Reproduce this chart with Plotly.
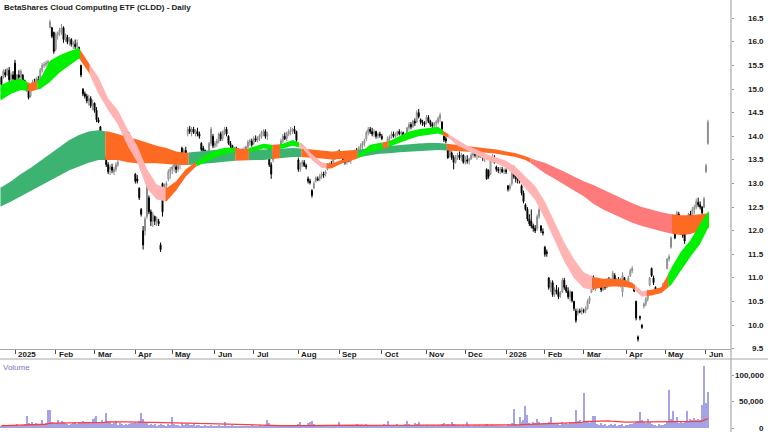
import numpy as np
import pandas as pd
import plotly.graph_objects as go

# ---------------- calendar (ASX trading days) ----------------
HOLIDAYS = ['2024-12-25', '2024-12-26', '2025-01-01', '2025-01-27', '2025-04-18', '2025-04-21',
            '2025-04-25', '2025-06-09', '2025-12-25', '2025-12-26', '2026-01-01', '2026-01-26',
            '2026-04-03', '2026-04-06']
dates = [d for d in pd.bdate_range('2024-12-19', '2026-06-02') if d.strftime('%Y-%m-%d') not in HOLIDAYS]

# ---------------- daily OHLC ----------------
opens = [
    15.25, 15.25, 15.35, 15.30, 15.40, 15.20, 15.30,
    15.55, 15.15, 15.30, 15.25, 15.30, 15.18, 15.10, 15.00, 14.85, 15.05, 15.15, 15.12, 15.20, 15.20, 15.40, 15.50, 15.52, 15.55, 16.30, 16.30, 16.20,
    15.85, 16.15, 16.20, 16.25, 16.30, 16.05, 16.10, 16.00, 16.05, 15.95, 15.95, 15.90, 15.88, 15.50, 15.00, 14.90, 14.85, 14.75, 14.80, 14.65,
    14.70, 14.55, 14.35, 14.20, 14.00, 13.85, 13.55, 13.40, 13.30, 13.35, 13.25, 13.30, 13.40, 13.60, 13.85, 13.70, 13.65, 13.90, 14.00, 13.80, 13.55,
    13.20, 13.10, 12.90, 12.45, 12.00, 12.00, 12.30, 12.70, 12.40, 12.20, 12.30, 12.20, 12.20, 11.70, 13.00, 12.90, 12.95, 13.10, 13.25,
    13.30, 13.35, 13.35, 13.30, 13.40, 13.75, 13.55, 13.70, 14.05, 14.15, 14.10, 14.15, 14.05, 14.10, 14.05, 13.85, 13.75, 13.70, 13.60, 13.70, 13.85, 14.00,
    13.80, 13.85, 13.90, 14.05, 13.95, 14.10, 14.15, 14.00, 13.85, 13.80, 13.65, 13.75, 13.70, 13.68, 13.62, 13.70, 13.72, 13.78, 13.88, 13.90,
    13.85, 13.95, 13.92, 13.98, 14.00, 14.08, 14.10, 14.00, 13.75, 13.40, 13.50, 13.65, 13.60, 13.65, 13.80, 13.90, 14.00, 13.95, 14.05, 14.10, 14.12, 14.15, 14.10,
    13.50, 13.30, 13.42, 13.45, 13.38, 13.10, 13.05, 12.85, 12.90, 13.05, 13.10, 13.10, 13.15, 13.20, 13.20, 13.30, 13.38, 13.42, 13.45, 13.55, 13.60,
    13.65, 13.60, 13.58, 13.50, 13.45, 13.52, 13.48, 13.55, 13.60, 13.68, 13.65, 13.75, 13.80, 13.85, 13.95, 14.08, 14.15, 14.10, 14.05, 14.10, 14.00, 14.05,
    14.00, 13.82, 13.70, 13.85, 13.95, 13.98, 14.05, 14.00, 14.05, 14.10, 14.05, 14.08, 13.95, 14.05, 14.18, 14.25, 14.20, 14.32, 14.30, 14.50, 14.35, 14.30, 14.28,
    14.28, 14.40, 14.32, 14.25, 14.22, 14.28, 14.30, 14.38, 14.30, 14.00, 13.95, 13.80, 13.60, 13.65, 13.55, 13.45, 13.55, 13.60, 13.55, 13.60,
    13.45, 13.50, 13.48, 13.52, 13.60, 13.65, 13.60, 13.65, 13.62, 13.60, 13.55, 13.30, 13.28, 13.20, 13.50, 13.55, 13.35, 13.30, 13.28, 13.30, 13.25,
    13.28, 12.95, 12.90, 13.00, 13.30, 13.15, 13.10, 13.08, 12.95, 12.80, 12.55, 12.45, 12.25, 12.20, 12.10, 12.05, 12.05, 12.30, 12.10, 11.98,
    11.65, 11.55, 11.00, 10.80, 10.90, 10.65, 10.75, 10.70, 10.65, 10.70, 10.95, 10.80, 10.72, 10.60, 10.70, 10.50, 10.30, 10.25, 10.30, 10.28,
    10.30, 10.30, 10.35, 10.50, 10.70, 11.00, 10.80, 10.90, 10.85, 10.90, 10.75, 10.85, 10.80, 10.95, 10.90, 10.95, 11.05, 10.92, 10.95, 10.88, 10.70, 11.00,
    10.90, 10.92, 11.05, 11.15, 10.80, 10.50, 9.75, 10.18, 10.00, 10.40, 10.45, 10.55, 10.85, 11.20, 11.00, 10.80, 10.72, 10.75, 10.72, 10.80,
    10.88, 11.20, 11.40, 11.65, 12.05, 12.00, 12.10, 12.35, 12.20, 12.00, 11.95, 11.95, 12.12, 12.35, 12.20, 12.45, 12.50, 12.60, 12.55, 12.50, 12.50, 13.25, 13.85,
]
highs = [
    15.28, 15.42, 15.42, 15.45, 15.47, 15.35, 15.38,
    15.62, 15.32, 15.40, 15.42, 15.32, 15.20, 15.12, 15.05, 15.10, 15.20, 15.22, 15.25, 15.28, 15.45, 15.55, 15.58, 15.60, 15.62, 16.47, 16.32, 16.22,
    16.20, 16.22, 16.30, 16.38, 16.33, 16.18, 16.15, 16.10, 16.08, 16.02, 16.05, 16.05, 15.90, 15.52, 15.02, 14.95, 14.90, 14.88, 14.85, 14.78,
    14.72, 14.62, 14.40, 14.22, 14.00, 13.95, 13.60, 13.45, 13.40, 13.42, 13.35, 13.45, 13.50, 13.85, 13.88, 13.78, 13.95, 14.05, 14.08, 13.85, 13.60,
    13.22, 13.18, 12.92, 12.48, 12.10, 12.30, 13.10, 12.75, 12.45, 12.40, 12.32, 12.30, 12.25, 11.75, 13.02, 13.00, 13.05, 13.30, 13.35,
    13.38, 13.45, 13.45, 13.42, 13.50, 13.78, 13.75, 13.78, 14.20, 14.22, 14.20, 14.20, 14.15, 14.18, 14.10, 13.88, 13.80, 13.72, 13.70, 13.88, 14.20, 14.05,
    13.90, 13.95, 14.08, 14.10, 14.12, 14.20, 14.20, 14.02, 13.90, 13.82, 13.78, 13.78, 13.75, 13.72, 13.75, 13.78, 13.80, 13.92, 13.95, 13.95,
    14.00, 14.02, 14.00, 14.05, 14.12, 14.15, 14.15, 14.10, 13.78, 13.45, 13.70, 13.72, 13.70, 13.80, 13.95, 14.05, 14.08, 14.10, 14.15, 14.20, 14.18, 14.22, 14.12,
    13.55, 13.45, 13.50, 13.50, 13.42, 13.15, 13.10, 12.88, 13.05, 13.15, 13.15, 13.20, 13.25, 13.25, 13.28, 13.40, 13.45, 13.48, 13.60, 13.65, 13.70,
    13.72, 13.68, 13.60, 13.55, 13.55, 13.60, 13.58, 13.65, 13.72, 13.75, 13.78, 13.85, 13.90, 13.95, 14.12, 14.20, 14.20, 14.18, 14.15, 14.12, 14.08, 14.10,
    14.05, 13.84, 13.85, 14.00, 14.02, 14.10, 14.10, 14.08, 14.12, 14.15, 14.12, 14.10, 14.05, 14.20, 14.30, 14.30, 14.35, 14.38, 14.55, 14.58, 14.38, 14.35, 14.32,
    14.45, 14.45, 14.35, 14.30, 14.30, 14.35, 14.42, 14.50, 14.32, 14.02, 14.00, 13.82, 13.75, 13.68, 13.60, 13.60, 13.65, 13.68, 13.65, 13.62,
    13.58, 13.60, 13.55, 13.65, 13.70, 13.70, 13.70, 13.72, 13.70, 13.65, 13.62, 13.32, 13.30, 13.55, 13.62, 13.60, 13.38, 13.35, 13.35, 13.35, 13.32,
    13.32, 12.97, 13.00, 13.35, 13.38, 13.20, 13.15, 13.12, 12.98, 12.85, 12.58, 12.50, 12.35, 12.45, 12.15, 12.12, 12.35, 12.50, 12.12, 12.05,
    11.68, 11.60, 11.02, 10.95, 10.95, 10.80, 10.85, 10.80, 10.72, 11.00, 11.00, 10.85, 10.80, 10.75, 10.72, 10.52, 10.35, 10.35, 10.35, 10.38,
    10.35, 10.40, 10.55, 10.62, 11.05, 11.05, 10.95, 11.00, 10.95, 10.92, 10.90, 10.90, 11.00, 11.02, 11.00, 11.15, 11.10, 11.00, 11.02, 11.00, 11.12, 11.02,
    10.95, 11.05, 11.20, 11.25, 10.82, 10.52, 9.78, 10.20, 10.02, 10.48, 10.60, 10.75, 11.02, 11.22, 11.05, 10.82, 10.78, 10.78, 10.80, 10.90,
    10.95, 11.42, 11.50, 11.88, 12.18, 12.02, 12.42, 12.40, 12.22, 12.05, 11.98, 12.18, 12.38, 12.42, 12.50, 12.55, 12.68, 12.70, 12.62, 12.52, 12.72, 13.42, 14.35,
]
lows = [
    15.05, 15.22, 15.25, 15.28, 15.10, 15.15, 15.18,
    15.10, 15.12, 15.20, 15.22, 15.15, 15.05, 14.95, 14.78, 14.82, 15.02, 15.08, 15.10, 15.12, 15.18, 15.35, 15.45, 15.47, 15.45, 16.30, 16.08, 15.75,
    15.80, 16.05, 16.12, 16.15, 15.98, 16.00, 15.95, 15.92, 15.90, 15.85, 15.85, 15.78, 15.65, 15.25, 14.85, 14.80, 14.70, 14.65, 14.60, 14.55,
    14.50, 14.30, 14.28, 14.00, 13.78, 13.75, 13.35, 13.20, 13.18, 13.22, 13.18, 13.25, 13.35, 13.58, 13.65, 13.55, 13.60, 13.85, 13.75, 13.60, 13.50,
    13.00, 13.00, 12.65, 12.30, 11.60, 11.90, 12.25, 12.35, 12.10, 12.08, 12.12, 12.10, 12.10, 11.55, 12.30, 12.85, 12.88, 13.05, 13.10,
    13.20, 13.25, 13.22, 13.25, 13.30, 13.40, 13.50, 13.60, 14.00, 14.05, 14.00, 14.05, 14.00, 14.00, 13.95, 13.68, 13.65, 13.55, 13.55, 13.65, 13.80, 13.75,
    13.75, 13.78, 13.85, 13.90, 13.90, 14.02, 14.00, 13.82, 13.75, 13.60, 13.60, 13.62, 13.60, 13.55, 13.58, 13.62, 13.65, 13.75, 13.80, 13.78,
    13.82, 13.88, 13.87, 13.90, 13.95, 14.00, 13.95, 13.92, 13.35, 13.10, 13.45, 13.55, 13.55, 13.60, 13.78, 13.85, 13.92, 13.90, 14.00, 14.02, 14.05, 14.05, 13.88,
    13.25, 13.25, 13.35, 13.35, 13.30, 13.00, 12.98, 12.70, 12.88, 13.02, 13.05, 13.05, 13.10, 13.12, 13.15, 13.28, 13.33, 13.35, 13.42, 13.50, 13.52,
    13.55, 13.52, 13.45, 13.40, 13.40, 13.45, 13.42, 13.50, 13.55, 13.60, 13.60, 13.70, 13.72, 13.78, 13.90, 14.02, 14.05, 14.00, 13.98, 13.95, 13.95, 13.97,
    13.92, 13.68, 13.68, 13.82, 13.88, 13.95, 13.97, 13.95, 14.00, 14.02, 13.98, 13.92, 13.90, 14.02, 14.12, 14.15, 14.18, 14.22, 14.28, 14.38, 14.25, 14.22, 14.20,
    14.25, 14.28, 14.20, 14.18, 14.15, 14.20, 14.25, 14.30, 14.12, 13.88, 13.85, 13.52, 13.55, 13.50, 13.30, 13.42, 13.50, 13.50, 13.48, 13.42,
    13.40, 13.42, 13.40, 13.50, 13.55, 13.55, 13.50, 13.55, 13.55, 13.48, 13.45, 13.08, 13.10, 13.18, 13.45, 13.42, 13.25, 13.22, 13.20, 13.22, 13.20,
    13.20, 12.83, 12.85, 12.95, 13.10, 13.02, 13.00, 13.00, 12.75, 12.58, 12.42, 12.20, 12.10, 12.05, 11.98, 11.95, 12.00, 12.25, 11.95, 11.90,
    11.45, 11.45, 10.75, 10.70, 10.60, 10.60, 10.65, 10.55, 10.58, 10.68, 10.75, 10.68, 10.55, 10.50, 10.48, 10.30, 10.05, 10.20, 10.25, 10.22,
    10.25, 10.25, 10.33, 10.45, 10.68, 10.75, 10.72, 10.80, 10.78, 10.70, 10.72, 10.75, 10.78, 10.85, 10.85, 10.90, 10.90, 10.85, 10.82, 10.80, 10.60, 10.85,
    10.85, 10.88, 11.02, 11.10, 10.70, 10.10, 9.65, 10.10, 9.92, 10.35, 10.40, 10.50, 10.82, 11.02, 10.85, 10.70, 10.68, 10.70, 10.68, 10.78,
    10.82, 11.18, 11.35, 11.62, 12.00, 11.82, 12.05, 12.15, 12.02, 11.85, 11.72, 11.92, 12.10, 12.15, 12.18, 12.35, 12.45, 12.50, 12.45, 12.35, 12.48, 13.22, 13.82,
]
closes = [
    15.10, 15.38, 15.30, 15.42, 15.20, 15.30, 15.22,
    15.15, 15.30, 15.25, 15.38, 15.18, 15.10, 15.00, 14.82, 15.05, 15.15, 15.12, 15.22, 15.18, 15.40, 15.50, 15.52, 15.55, 15.58, 16.42, 16.12, 15.80,
    16.15, 16.20, 16.25, 16.30, 16.05, 16.15, 16.00, 16.05, 15.95, 15.98, 15.90, 15.98, 15.68, 15.30, 14.90, 14.85, 14.75, 14.80, 14.65, 14.70,
    14.55, 14.35, 14.30, 14.05, 13.82, 13.90, 13.40, 13.25, 13.35, 13.28, 13.30, 13.40, 13.45, 13.80, 13.70, 13.60, 13.90, 14.00, 13.80, 13.65, 13.55,
    13.05, 13.05, 12.70, 12.35, 11.70, 12.25, 12.95, 12.40, 12.20, 12.35, 12.20, 12.25, 12.15, 11.60, 12.40, 12.95, 13.00, 13.25, 13.30,
    13.35, 13.40, 13.30, 13.38, 13.45, 13.45, 13.70, 13.65, 14.15, 14.10, 14.15, 14.08, 14.12, 14.05, 14.00, 13.72, 13.70, 13.60, 13.65, 13.85, 14.15, 13.80,
    13.85, 13.90, 14.05, 13.95, 14.10, 14.15, 14.05, 13.85, 13.80, 13.65, 13.75, 13.70, 13.68, 13.62, 13.70, 13.72, 13.78, 13.88, 13.90, 13.82,
    13.95, 13.92, 13.98, 14.02, 14.08, 14.10, 14.00, 14.05, 13.40, 13.20, 13.65, 13.60, 13.65, 13.75, 13.90, 14.00, 13.95, 14.05, 14.10, 14.12, 14.15, 14.10, 13.92,
    13.30, 13.42, 13.45, 13.38, 13.35, 13.05, 13.02, 12.75, 13.00, 13.12, 13.08, 13.15, 13.20, 13.18, 13.25, 13.38, 13.42, 13.40, 13.55, 13.60, 13.65,
    13.60, 13.58, 13.50, 13.45, 13.52, 13.48, 13.55, 13.60, 13.68, 13.65, 13.75, 13.80, 13.85, 13.90, 14.08, 14.15, 14.10, 14.05, 14.10, 14.00, 14.05, 14.02,
    13.95, 13.70, 13.82, 13.95, 13.98, 14.05, 14.00, 14.05, 14.10, 14.05, 14.08, 13.95, 14.02, 14.18, 14.25, 14.20, 14.32, 14.28, 14.50, 14.42, 14.30, 14.28, 14.25,
    14.40, 14.32, 14.25, 14.22, 14.28, 14.30, 14.38, 14.45, 14.15, 13.92, 13.90, 13.55, 13.70, 13.55, 13.45, 13.55, 13.60, 13.55, 13.60, 13.45,
    13.50, 13.48, 13.52, 13.60, 13.65, 13.60, 13.65, 13.62, 13.60, 13.55, 13.58, 13.10, 13.15, 13.50, 13.55, 13.45, 13.30, 13.28, 13.30, 13.25, 13.28,
    13.25, 12.88, 12.95, 13.30, 13.15, 13.10, 13.08, 13.05, 12.80, 12.62, 12.45, 12.25, 12.15, 12.10, 12.05, 12.00, 12.30, 12.45, 12.00, 11.95,
    11.50, 11.52, 10.80, 10.90, 10.65, 10.75, 10.70, 10.60, 10.68, 10.95, 10.80, 10.72, 10.60, 10.70, 10.52, 10.35, 10.10, 10.30, 10.28, 10.32,
    10.30, 10.35, 10.50, 10.58, 11.00, 10.80, 10.90, 10.85, 10.90, 10.75, 10.85, 10.80, 10.95, 10.90, 10.95, 11.10, 10.92, 10.95, 10.88, 10.95, 11.05, 10.90,
    10.92, 11.00, 11.15, 11.20, 10.72, 10.15, 9.70, 10.15, 9.95, 10.45, 10.55, 10.70, 11.00, 11.05, 10.90, 10.72, 10.75, 10.72, 10.75, 10.88,
    10.90, 11.40, 11.45, 11.85, 12.15, 11.85, 12.38, 12.20, 12.05, 11.90, 11.78, 12.15, 12.35, 12.20, 12.45, 12.50, 12.62, 12.55, 12.50, 12.38, 12.68, 13.38, 14.30,
]
volumes = [
    4000, 6000, 3000, 5000, 2000, 3000, 4000,
    5000, 7000, 4000, 6000, 5000, 8000, 23000, 9000, 6000, 11000, 7000, 10000, 5000, 8000, 15000, 7000, 9000, 35000, 34000, 12000, 9000,
    10000, 15000, 9000, 14000, 11000, 10000, 7000, 6000, 8000, 9000, 11000, 8000, 12000, 10000, 13000, 11000, 10000, 12000, 9000, 17000,
    19000, 23000, 12000, 10000, 15000, 9000, 28000, 11000, 12000, 8000, 10000, 13000, 6000, 9000, 7000, 5000, 8000, 6000, 7000, 10000, 9000,
    12000, 9000, 14000, 28000, 18000, 12000, 9000, 6000, 8000, 5000, 7000, 4000, 6000, 7000, 5000, 6000, 4000, 7000, 5000,
    20000, 8000, 5000, 6000, 4000, 9000, 5000, 7000, 8000, 6000, 5000, 7000, 4000, 6000, 5000, 3000, 4000, 5000, 3000, 4000, 6000, 3000,
    4000, 3000, 5000, 2000, 3000, 12000, 4000, 2000, 3000, 5000, 2000, 3000, 4000, 2000, 3000, 2000, 4000, 3000, 2000, 5000,
    3000, 4000, 2000, 5000, 3000, 4000, 6000, 16000, 9000, 5000, 4000, 3000, 5000, 2000, 4000, 6000, 3000, 5000, 2000, 4000, 3000, 2000, 5000,
    8000, 11000, 5000, 6000, 4000, 9000, 12000, 13000, 7000, 5000, 4000, 6000, 3000, 4000, 5000, 3000, 4000, 6000, 3000, 4000, 2000,
    11000, 3000, 4000, 5000, 3000, 6000, 4000, 5000, 3000, 7000, 4000, 5000, 6000, 4000, 7000, 5000, 4000, 6000, 3000, 5000, 4000, 3000,
    5000, 8000, 6000, 13000, 5000, 4000, 6000, 5000, 7000, 4000, 6000, 5000, 7000, 13000, 8000, 6000, 5000, 9000, 7000, 11000, 6000, 5000, 4000,
    6000, 5000, 4000, 6000, 5000, 3000, 6000, 5000, 7000, 9000, 6000, 8000, 5000, 12000, 7000, 5000, 4000, 6000, 3000, 5000,
    4000, 11000, 5000, 3000, 4000, 6000, 3000, 5000, 4000, 3000, 5000, 7000, 4000, 3000, 5000, 2000, 4000, 3000, 2000, 4000, 3000,
    4000, 8000, 6000, 9000, 36000, 8000, 5000, 20000, 12000, 15000, 41000, 25000, 10000, 8000, 12000, 9000, 17000, 11000, 7000, 9000,
    10000, 8000, 12000, 21000, 9000, 7000, 10000, 8000, 6000, 11000, 7000, 9000, 8000, 12000, 10000, 9000, 35000, 14000, 15000, 10000,
    66000, 14000, 13000, 9000, 12000, 23000, 22000, 8000, 6000, 9000, 5000, 7000, 4000, 6000, 8000, 5000, 7000, 4000, 6000, 5000, 7000, 4000,
    5000, 6000, 8000, 7000, 9000, 12000, 14000, 30000, 15000, 11000, 9000, 18000, 12000, 8000, 6000, 5000, 4000, 7000, 5000, 6000,
    8000, 12000, 72000, 18000, 32000, 12000, 21000, 10000, 14000, 9000, 14000, 33000, 12000, 18000, 15000, 19000, 16000, 18000, 15000, 44000, 117000, 47000, 68000,
]

# ---------------- moving-average ribbons (edges) ----------------
ribbon_idx = list(range(0, 361, 5)) + [364]
slow_top = [12.92, 13.05, 13.20, 13.33, 13.48, 13.62, 13.78, 13.92, 14.03, 14.10, 14.13, 14.10, 14.05, 13.98, 13.93,
            13.86, 13.80, 13.75, 13.68, 13.65, 13.67, 13.70, 13.72, 13.73, 13.74, 13.73, 13.72, 13.72, 13.73, 13.74,
            13.75, 13.74, 13.72, 13.70, 13.68, 13.69, 13.70, 13.72, 13.75, 13.78, 13.80, 13.82, 13.84, 13.85, 13.86,
            13.86, 13.84, 13.81, 13.79, 13.77, 13.75, 13.72, 13.68, 13.64, 13.58, 13.50, 13.44, 13.35, 13.25, 13.15,
            13.05, 12.97, 12.87, 12.77, 12.68, 12.58, 12.50, 12.44, 12.39, 12.35, 12.33, 12.33, 12.35, 12.37]
slow_bot = [12.52, 12.62, 12.72, 12.83, 12.95, 13.06, 13.17, 13.28, 13.36, 13.44, 13.50, 13.50, 13.50, 13.45, 13.43,
            13.43, 13.43, 13.42, 13.40, 13.39, 13.40, 13.42, 13.44, 13.46, 13.48, 13.49, 13.50, 13.50, 13.52, 13.54,
            13.56, 13.56, 13.55, 13.53, 13.51, 13.52, 13.53, 13.56, 13.60, 13.63, 13.64, 13.66, 13.68, 13.69, 13.70,
            13.71, 13.70, 13.68, 13.67, 13.66, 13.65, 13.63, 13.60, 13.56, 13.50, 13.38, 13.22, 13.10, 12.98, 12.85,
            12.73, 12.57, 12.45, 12.35, 12.26, 12.17, 12.10, 12.04, 11.99, 11.94, 11.91, 11.93, 12.00, 12.07]
fast_top = [15.09, 15.18, 15.22, 15.12, 15.22, 15.60, 15.72, 15.80, 15.87, 15.55, 15.25, 14.80, 14.55, 14.15, 13.80,
            13.30, 12.98, 12.90, 13.05, 13.30, 13.45, 13.60, 13.70, 13.76, 13.76, 13.72, 13.78, 13.84, 13.82, 13.84,
            13.92, 13.85, 13.62, 13.45, 13.42, 13.50, 13.55, 13.65, 13.82, 13.86, 13.90, 14.00, 14.10, 14.15, 14.18,
            14.20, 14.05, 13.92, 13.80, 13.72, 13.62, 13.55, 13.48, 13.35, 13.15, 12.95, 12.62, 12.20, 11.75, 11.40,
            11.12, 11.02, 10.98, 10.98, 10.97, 10.90, 10.72, 10.75, 10.80, 11.20, 11.55, 11.80, 12.15, 12.40]
fast_bot = [14.77, 14.90, 14.98, 14.95, 15.00, 15.15, 15.35, 15.50, 15.65, 15.35, 14.90, 14.55, 14.25, 13.80, 13.45,
            12.90, 12.66, 12.62, 12.85, 13.15, 13.35, 13.45, 13.55, 13.62, 13.66, 13.64, 13.68, 13.74, 13.72, 13.74,
            13.80, 13.75, 13.50, 13.33, 13.32, 13.42, 13.48, 13.55, 13.67, 13.71, 13.78, 13.86, 13.94, 14.00, 14.03,
            14.06, 13.98, 13.80, 13.70, 13.60, 13.50, 13.43, 13.33, 13.15, 12.90, 12.65, 12.25, 11.80, 11.35, 11.00,
            10.78, 10.75, 10.80, 10.82, 10.82, 10.78, 10.60, 10.63, 10.68, 10.85, 11.15, 11.45, 11.72, 12.05]

# trend state of each ribbon over bar ranges (inclusive)
fast_segments = [(0, 13, 'up'), (14, 18, 'mix'), (19, 40, 'up'), (41, 45, 'mix'), (46, 84, 'down'),
                 (85, 100, 'mix'), (101, 120, 'up'), (121, 127, 'mix'), (128, 139, 'up'), (140, 143, 'mix'),
                 (144, 153, 'up'), (154, 167, 'down'), (168, 183, 'mix'), (184, 196, 'up'), (197, 199, 'mix'),
                 (200, 227, 'up'), (228, 230, 'mix'), (231, 304, 'down'), (305, 326, 'mix'), (327, 332, 'down'),
                 (333, 343, 'mix'), (344, 364, 'up')]
slow_segments = [(0, 53, 'up'), (54, 96, 'mix'), (97, 120, 'up'), (121, 127, 'mix'), (128, 139, 'up'),
                 (140, 143, 'mix'), (144, 154, 'up'), (155, 183, 'mix'), (184, 229, 'up'), (230, 272, 'mix'),
                 (273, 345, 'down'), (346, 364, 'mix')]

FAST_COL = {'up': '#00f000', 'mix': '#ff6a22', 'down': '#ffb3b3'}
SLOW_COL = {'up': '#3cb371', 'mix': '#ff6a22', 'down': '#ff7a7a'}

price_ticks = [9.5, 10.0, 10.5, 11.0, 11.5, 12.0, 12.5, 13.0, 13.5, 14.0, 14.5, 15.0, 15.5, 16.0, 16.5]
volume_ticks = [0, 50000, 100000]

FONT = 'Liberation Sans, Arial, sans-serif'

n = min(len(dates), len(closes))
idx = np.arange(n)

fig = go.Figure()


def add_ribbon(segments, top, bot, colors):
    for a, b, state in segments:
        x0, x1 = a - 0.5, b + 0.5
        xs = [x0] + [s for s in ribbon_idx if x0 < s < x1] + [x1]
        t = np.interp(xs, ribbon_idx, top)
        bo = np.interp(xs, ribbon_idx, bot)
        fig.add_trace(go.Scatter(x=xs + xs[::-1], y=list(t) + list(bo[::-1]), mode='lines',
                                 fill='toself', fillcolor=colors[state], line=dict(width=0),
                                 hoverinfo='skip', showlegend=False, xaxis='x', yaxis='y'))


add_ribbon(slow_segments, slow_top, slow_bot, SLOW_COL)
add_ribbon(fast_segments, fast_top, fast_bot, FAST_COL)

fig.add_trace(go.Candlestick(
    x=idx, open=opens[:n], high=highs[:n], low=lows[:n], close=closes[:n],
    increasing=dict(line=dict(color='#8a8a8a', width=1), fillcolor='#ffffff'),
    decreasing=dict(line=dict(color='#000000', width=1), fillcolor='#000000'),
    whiskerwidth=0, showlegend=False, xaxis='x', yaxis='y'))

vol = pd.Series(volumes[:n], dtype=float)
fig.add_trace(go.Bar(x=idx, y=vol, width=0.55, marker=dict(color='#a3a3e6', line=dict(width=0)),
                     showlegend=False, xaxis='x2', yaxis='y2'))
fig.add_trace(go.Scatter(x=idx, y=vol.rolling(50, min_periods=1).mean(), mode='lines',
                         line=dict(color='#ff3c3c', width=1.3), showlegend=False, xaxis='x2', yaxis='y2'))

# month ticks
month_idx, month_lab = [], []
for i in range(1, n):
    if dates[i].month != dates[i - 1].month:
        month_idx.append(i)
        month_lab.append(str(dates[i].year) if dates[i].month == 1 else dates[i].strftime('%b'))

W, H = 768, 432
PLOT_R = 731
price_dom = [1 - 349 / H, 1]
vol_dom = [0, 73 / H]
xr = [-0.73, 375.9]

annotations = []
annotations.append(dict(text='<b>BetaShares Cloud Computing ETF (CLDD) - Daily</b>', xref='paper', yref='paper',
                        x=0, y=1 - 7.5 / H, xanchor='left', yanchor='middle', xshift=2, showarrow=False,
                        font=dict(family=FONT, size=8, color='#1a1a1a')))
for mi, ml in zip(month_idx, month_lab):
    annotations.append(dict(text='<b>%s</b>' % ml, xref='x', yref='paper', x=mi, y=1 - 354.5 / H,
                            xanchor='left', yanchor='middle', xshift=1, showarrow=False,
                            font=dict(family=FONT, size=8, color='#1a1a1a')))
for p in price_ticks:
    annotations.append(dict(text='<b>%.1f</b>' % p, xref='paper', yref='y', x=1, y=p, xanchor='right',
                            yanchor='middle', xshift=W - 2 - PLOT_R, showarrow=False,
                            font=dict(family=FONT, size=8, color='#1a1a1a')))
for v in volume_ticks:
    annotations.append(dict(text='<b>{:,}</b>'.format(v), xref='paper', yref='y2', x=1, y=v, xanchor='right',
                            yanchor='middle', xshift=W - 2 - PLOT_R, showarrow=False,
                            font=dict(family=FONT, size=8, color='#1a1a1a')))
annotations.append(dict(text='Volume', xref='paper', yref='paper', x=0, y=1 - 367.5 / H, xanchor='left',
                        yanchor='middle', xshift=1, showarrow=False,
                        font=dict(family=FONT, size=8, color='#7878c0')))

xr_paper_right = W / PLOT_R
shapes = [
    dict(type='line', xref='paper', yref='paper', x0=1, x1=1, y0=0, y1=1, line=dict(color='#9a9a9a', width=1)),
    dict(type='line', xref='paper', yref='paper', x0=0, x1=xr_paper_right, y0=1 - 359 / H, y1=1 - 359 / H,
         line=dict(color='#a8a8a8', width=1)),
]

fig.update_layout(
    width=W, height=H, margin=dict(l=0, r=W - PLOT_R, t=0, b=0),
    paper_bgcolor='white', plot_bgcolor='white', showlegend=False, hovermode=False,
    bargap=0,
    xaxis=dict(domain=[0, 1], anchor='y', range=xr, showgrid=False, zeroline=False,
               showline=True, linecolor='#a8a8a8', linewidth=1,
               tickmode='array', tickvals=month_idx, ticks='outside', ticklen=4, tickcolor='#555',
               showticklabels=False, rangeslider=dict(visible=False), fixedrange=True),
    yaxis=dict(domain=price_dom, anchor='x', side='right', range=[9.494, 16.888], showgrid=False,
               zeroline=False, showline=False, tickmode='array', tickvals=price_ticks, ticks='outside',
               ticklen=2, tickcolor='#999', showticklabels=False),
    xaxis2=dict(domain=[0, 1], anchor='y2', range=xr, matches='x', showgrid=False, zeroline=False,
                showline=False, showticklabels=False, ticks=''),
    yaxis2=dict(domain=vol_dom, anchor='x2', side='right', range=[-7600, 131180], showgrid=False,
                zeroline=False, showline=False, tickmode='array', tickvals=volume_ticks, ticks='outside',
                ticklen=2, tickcolor='#999', showticklabels=False),
    annotations=annotations, shapes=shapes,
)

fig.write_html('out.html')
